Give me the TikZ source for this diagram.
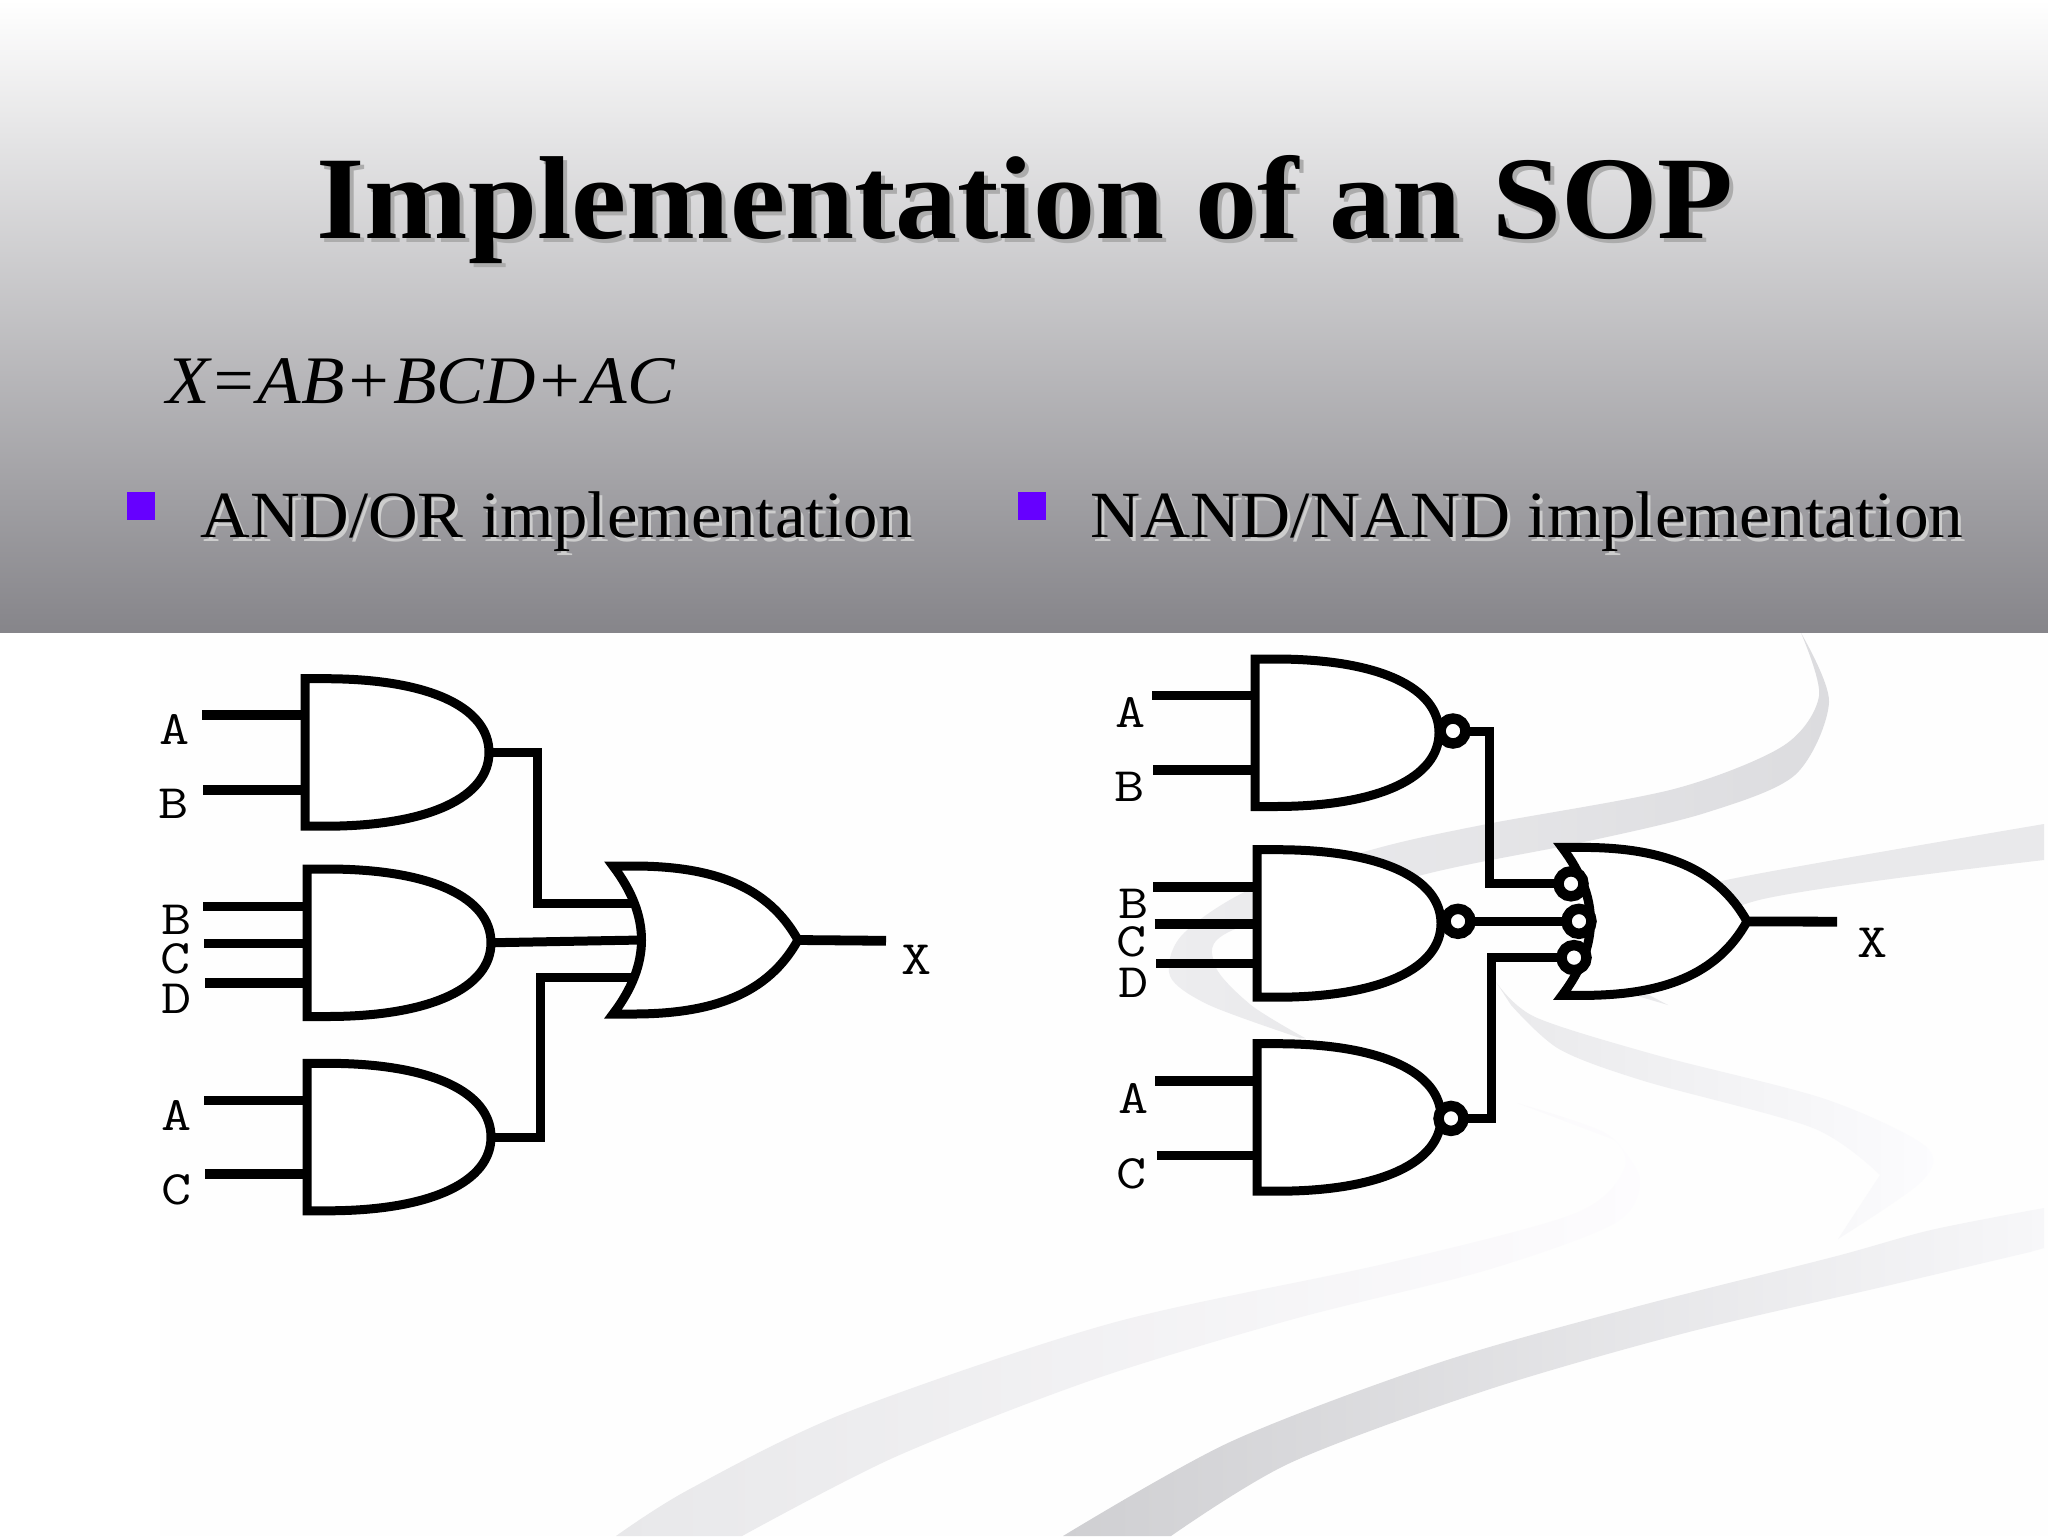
\documentclass[tikz,border=0pt]{standalone}
\usepackage{fontspec}
\setmainfont{Liberation Serif}
\newcommand{\fitw}[2]{\resizebox{#1}{\height}{#2}}
\newcommand{\wlet}[1]{\scalebox{1.22}[1]{#1}}
\definecolor{bulletc}{HTML}{6600FF}
\tikzset{
  x=0.5pt,y=-0.5pt,
  gateline/.style={draw=black,line width=4.5pt,fill=white,line join=miter},
  wire/.style={draw=black,line width=4.5pt,line join=miter},
  stub/.style={draw=black,line width=4.9pt},
  bub/.style={circle,draw=black,fill=white,line width=5.2pt,minimum size=12.5pt,inner sep=0pt,outer sep=0pt},
  lbl/.style={font=\ttfamily\fontsize{24}{24}\selectfont,text=black,inner sep=0pt},
  titletext/.style={font=\bfseries\fontsize{59}{60}\selectfont,anchor=base west,inner sep=0pt},
  subtext/.style={font=\fontsize{33}{34}\selectfont,anchor=base west,inner sep=0pt},
  bulletbox/.style={fill=bulletc,draw=none},
  andgate/.pic={
    \draw[gateline] (0,0) -- (20,0) .. controls (125,0) and (184,29) .. (184,73.75)
      .. controls (184,118) and (125,147.5) .. (20,147.5) -- (0,147.5) -- cycle;
    \coordinate (-w) at (0,73.75);
    \coordinate (-out) at (184,73.75);
  },
  orgate/.pic={
    \draw[gateline] (0,0) -- (20,0) .. controls (100,0) and (155,20) .. (185,74)
      .. controls (155,128) and (100,148) .. (20,148) -- (0,148)
      .. controls (38,98) and (38,50) .. (0,0) -- cycle;
    \coordinate (-i1) at (21,37);
    \coordinate (-i2) at (28.5,74);
    \coordinate (-i3) at (21,111);
    \coordinate (-out) at (185,74);
  }
}
\begin{document}
\begin{tikzpicture}
\useasboundingbox (0,0) rectangle (2048,1536);
% page background
\fill[white] (0,0) rectangle (2048,1536);
\fill[fill={rgb,255:red,254;green,254;blue,254}] (160,632) rectangle (2048,1536);
% decorative ribbons
\definecolor{ra}{HTML}{EDEDEF}\definecolor{rb}{HTML}{DCDCDF}
\definecolor{rc}{HTML}{E9E9EB}\definecolor{rd}{HTML}{FCFCFE}
\definecolor{re}{HTML}{E8E8EA}\definecolor{rf}{HTML}{FDFCFE}
\definecolor{rg}{HTML}{CFCFD2}\definecolor{rh}{HTML}{F7F7F9}
\shade[left color=ra,right color=rb]
  plot[smooth] coordinates {(1801,633) (1829,702) (1795,775) (1705,813) (1584,842) (1426,874) (1233,930) (1215,965) (1251,1005) (1305,1038)}
  -- plot[smooth] coordinates {(1300,1038) (1209,1005) (1170,976) (1182,935) (1251,889) (1378,848) (1487,824) (1674,789) (1783,746) (1819,696) (1801,633)} -- cycle;
\fill[rc]
  plot[smooth] coordinates {(2044,824) (1741,877) (1640,905) (1600,950)}
  -- plot[smooth] coordinates {(1640,960) (1759,900) (2044,860)} -- cycle;
\shade[left color=rc,right color=rd]
  plot[smooth] coordinates {(1496,982) (1535,1017) (1656,1055) (1825,1099) (1925,1146) (1922,1181) (1838,1239)}
  -- plot[smooth] coordinates {(1880,1175) (1813,1128) (1644,1081) (1559,1049) (1511,1005)} -- cycle;
\fill[rc] (1600,985) -- (1668,1005) -- (1630,985) -- cycle;
\shade[left color=re,right color=rf]
  plot[smooth] coordinates {(616,1536) (688,1490) (845,1413) (1112,1323) (1388,1263) (1576,1213) (1625,1167) (1605,1133) (1517,1103)}
  -- plot[smooth] coordinates {(1615,1140) (1640,1180) (1615,1223) (1487,1270) (1290,1320) (1092,1380) (895,1457) (742,1536)} -- cycle;
\shade[left color=rg,right color=rh]
  plot[smooth] coordinates {(1063,1536) (1230,1442) (1438,1363) (1635,1307) (1833,1257) (1931,1230) (2044,1208)}
  -- (2044,1248)
  -- plot[smooth] coordinates {(2030,1252) (1882,1287) (1685,1333) (1487,1390) (1290,1463) (1171,1536)} -- cycle;
% header band
\shade[top color=white,bottom color={rgb,255:red,134;green,133;blue,138}] (0,0) rectangle (2048,632);
% title and texts
\node[titletext,text={rgb,255:red,172;green,172;blue,172}] (titleshadow) at (320,242) {\fitw{708.5pt}{Implementation of an SOP}};
\node[titletext] (title) at (316,238) {\fitw{708.5pt}{Implementation of an SOP}};
\node[subtext,font=\itshape\fontsize{34}{35}\selectfont] (formula) at (166,403) {\fitw{254pt}{X=AB+BCD+AC}};
\node[bulletbox,minimum width=14pt,minimum height=14pt,inner sep=0pt] (bulleta) at (141,506) {};
\node[subtext,text={rgb,255:red,205;green,205;blue,205}] (andshadow) at (203,541) {\fitw{356pt}{AND/OR implementation}};
\node[subtext] (andtext) at (200,537) {\fitw{356pt}{AND/OR implementation}};
\node[bulletbox,minimum width=14pt,minimum height=14pt,inner sep=0pt] (bulletb) at (1031.5,506) {};
\node[subtext,text={rgb,255:red,205;green,205;blue,205}] (nandshadow) at (1093,541) {\fitw{436.5pt}{NAND/NAND implementation}};
\node[subtext] (nandtext) at (1090,537) {\fitw{436.5pt}{NAND/NAND implementation}};
% AND/OR circuit
\pic (g1) at (305,678.7) {andgate};
\pic (g2) at (307,869) {andgate};
\pic (g3) at (307,1063.3) {andgate};
\pic (org) at (613,866) {orgate};
\coordinate (g1a) at (202,715); \coordinate (g1b) at (203,790);
\coordinate (g2a) at (203,906.4); \coordinate (g2b) at (204,943.5); \coordinate (g2c) at (205,982.6);
\coordinate (g3a) at (204,1100.4); \coordinate (g3b) at (205,1174.3);
\foreach \s/\g in {g1a/g1,g1b/g1,g2a/g2,g2b/g2,g2c/g2,g3a/g3,g3b/g3}
  \draw[stub] (\s) -- (\s -| \g-w);
\coordinate (ja) at (537.5,850);
\coordinate (jb) at (540,1050);
\draw[wire] (g1-out) -| (ja) |- (org-i1);
\draw[wire] (g2-out) -- (org-i2);
\draw[wire] (g3-out) -| (jb) |- (org-i3);
\coordinate (xout) at (886,940.8);
\draw[stub] (org-out) -- (xout);
\node[lbl] (la) at (175,729) {\wlet{A}};
\node[lbl] (lb) at (174,804) {\wlet{B}};
\node[lbl] (lc) at (177,920) {\wlet{B}};
\node[lbl] (ld) at (176,959) {\wlet{C}};
\node[lbl] (le) at (177,999) {\wlet{D}};
\node[lbl] (lf) at (177,1115) {\wlet{A}};
\node[lbl] (lg) at (177,1190) {\wlet{C}};
\node[lbl] (lx) at (917,960) {\wlet{X}};
% NAND/NAND circuit
\pic (n1) at (1255,659) {andgate};
\pic (n2) at (1257,849.7) {andgate};
\pic (n3) at (1257,1043.7) {andgate};
\pic (nor) at (1562,847.4) {orgate};
\coordinate (n1a) at (1152,695.5); \coordinate (n1b) at (1153,770);
\coordinate (n2a) at (1153,887); \coordinate (n2b) at (1154.5,924); \coordinate (n2c) at (1156,963.4);
\coordinate (n3a) at (1155,1080.9); \coordinate (n3b) at (1156.6,1155.5);
\foreach \s/\g in {n1a/n1,n1b/n1,n2a/n2,n2b/n2,n2c/n2,n3a/n3,n3b/n3}
  \draw[stub] (\s) -- (\s -| \g-w);
\node[bub] (b1) at (1453,731) {};
\node[bub] (b2) at (1458,921.3) {};
\node[bub] (b3) at (1451,1118.4) {};
\node[bub] (c1) at (1571,883.8) {};
\node[bub] (c2) at (1579,921.3) {};
\node[bub] (c3) at (1574,957.6) {};
\coordinate (jc) at (1489,800);
\coordinate (jd) at (1491,1050);
\draw[wire] (b1.east) -| (jc) |- (c1.west);
\draw[wire] (b2.east) -- (c2.west);
\draw[wire] (b3.east) -| (jd) |- (c3.west);
\coordinate (yout) at (1837,921.7);
\draw[stub] (nor-out) -- (yout);
\node[lbl] (ma) at (1131,712) {\wlet{A}};
\node[lbl] (mb) at (1130,787) {\wlet{B}};
\node[lbl] (mc) at (1134,904) {\wlet{B}};
\node[lbl] (md) at (1132,942) {\wlet{C}};
\node[lbl] (me) at (1134,983) {\wlet{D}};
\node[lbl] (mf) at (1134,1098) {\wlet{A}};
\node[lbl] (mg) at (1132,1174) {\wlet{C}};
\node[lbl] (mx) at (1873,943) {\wlet{X}};
\end{tikzpicture}
\end{document}
